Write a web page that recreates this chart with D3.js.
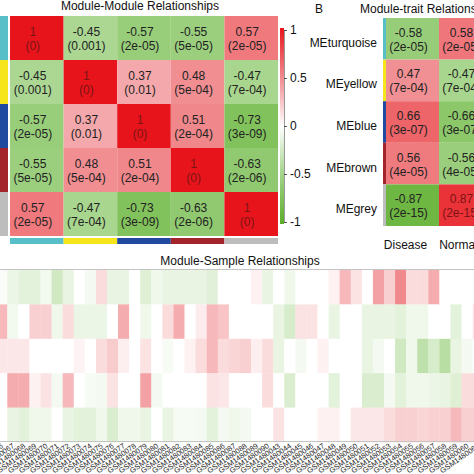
<!DOCTYPE html>
<html>
<head>
<meta charset="utf-8">
<script src="https://cdn.jsdelivr.net/npm/d3@7"></script>
<style>
  body { margin: 0; background: #fff; }
  svg { display: block; font-family: "Liberation Sans", Arial, sans-serif; }
</style>
</head>
<body>
<div id="chart"></div>
<script>
// ---- data ----
const modules = ["turquoise", "yellow", "blue", "brown", "grey"];
const moduleColors = ["#58bec7", "#f6e51b", "#1f4a9f", "#a3242b", "#bdbdbd"];

const moduleCor = [
  [1, -0.45, -0.57, -0.55, 0.57],
  [-0.45, 1, 0.37, 0.48, -0.47],
  [-0.57, 0.37, 1, 0.51, -0.73],
  [-0.55, 0.48, 0.51, 1, -0.63],
  [0.57, -0.47, -0.73, -0.63, 1]
];
const modulePval = [
  ["0", "0.001", "2e-05", "5e-05", "2e-05"],
  ["0.001", "0", "0.01", "5e-04", "7e-04"],
  ["2e-05", "0.01", "0", "2e-04", "3e-09"],
  ["5e-05", "5e-04", "2e-04", "0", "2e-06"],
  ["2e-05", "7e-04", "3e-09", "2e-06", "0"]
];

const traits = ["Disease", "Normal"];
const traitCor = [
  [-0.58, 0.58],
  [0.47, -0.47],
  [0.66, -0.66],
  [0.56, -0.56],
  [-0.87, 0.87]
];
const traitPval = ["2e-05", "7e-04", "3e-07", "4e-05", "2e-15"];

const samples = [
  "GSM1480066", "GSM1480067", "GSM1480068", "GSM1480069", "GSM1480070", "GSM1480071",
  "GSM1480072", "GSM1480073", "GSM1480074", "GSM1480075", "GSM1480076", "GSM1480077",
  "GSM1480078", "GSM1480079", "GSM1480080", "GSM1480081", "GSM1480082", "GSM1480083",
  "GSM1480084", "GSM1480085", "GSM1480086", "GSM1480087", "GSM1480088", "GSM1480089",
  "GSM1480090", "GSM1480043", "GSM1480044", "GSM1480045", "GSM1480046", "GSM1480047",
  "GSM1480048", "GSM1480049", "GSM1480050", "GSM1480051", "GSM1480052", "GSM1480053",
  "GSM1480054", "GSM1480055", "GSM1480056", "GSM1480057", "GSM1480058", "GSM1480059",
  "GSM1480060", "GSM1480061"
];

// module eigengene per sample (rows = modules)
const sampleME = [
  [-0.03, -0.1, -0.15, -0.15, -0.07, -0.25, -0.12, 0, -0.06, 0.15, -0.12, -0.12, 0, -0.18, -0.08,
   -0.12, -0.12, -0.12, -0.12, -0.16, 0, 0, 0, 0.06, -0.12, 0, -0.08, 0, 0, 0, 0.06, 0.3, 0.12, 0,
   0.4, 0.2, 0.5, 0.15, 0.15, 0.35, 0, 0, 0, 0],
  [0.3, -0.07, 0, 0.2, 0.2, -0.08, 0.15, -0.1, -0.1, -0.1, 0, 0.35, 0, -0.08, 0, 0.15, 0.35, 0,
   0.08, 0.3, 0.25, 0, 0, 0, 0, -0.12, -0.22, 0.12, 0.12, 0, -0.12, 0, 0, -0.12, -0.12, -0.12,
   -0.15, -0.08, -0.08, 0, 0, -0.15, 0, 0.1],
  [0.1, 0.1, 0.1, 0, 0, 0, 0, 0.05, 0, 0.15, 0.22, 0.07, 0, 0.12, 0, -0.05, 0, 0.06, 0.15, 0.3,
   0.15, 0.18, 0.2, 0.07, 0.15, -0.12, 0, -0.06, 0, 0.06, 0, 0, 0, -0.12, -0.06, 0, -0.25, -0.08,
   -0.35, -0.22, -0.38, -0.12, -0.06, 0],
  [0, 0.35, 0.35, 0.06, 0.12, -0.06, 0.3, 0, -0.05, -0.06, 0.12, 0, 0, 0.4, -0.06, 0, 0, 0, 0,
   0.12, 0.1, 0, 0, 0, 0.15, 0, -0.2, 0, 0, 0, -0.15, 0, 0, -0.2, -0.2, -0.06, -0.15, -0.08, -0.08,
   -0.1, -0.12, -0.18, 0.15, 0.15],
  [0, -0.12, -0.15, -0.08, -0.08, 0, -0.12, -0.15, -0.15, -0.08, -0.2, -0.08, -0.08, -0.12, 0,
   -0.12, -0.05, -0.05, -0.06, -0.15, -0.06, -0.08, -0.06, 0, 0, 0.12, 0, 0, 0, 0.06, 0.06, 0, 0.1,
   0.1, 0.1, 0.15, 0.2, 0.2, 0.18, 0.2, 0.2, 0.3, 0.2, 0.2]
];

const colorTicks = [-1, -0.5, 0, 0.5, 1];

// ---- setup ----
const width = 474;
const height = 474;

const color = d3.scaleLinear()
  .domain([-1, -0.5, 0, 0.5, 1])
  .range(["#5cad2a", "#a2d387", "#ffffff", "#f0898d", "#e8141c"])
  .clamp(true);

const svg = d3.select("#chart")
  .append("svg")
  .attr("width", width)
  .attr("height", height);

const textDx = -4; // labels sit a touch left of cell centres in the original

// ---- A: module-module heatmap ----
const mx = d3.scaleBand().domain(modules).range([10, 278]);
const my = d3.scaleBand().domain(modules).range([16, 236]);

svg.append("text")
  .attr("x", 140)
  .attr("y", 9.5)
  .attr("text-anchor", "middle")
  .attr("font-size", "12px")
  .attr("fill", "#111")
  .text("Module-Module Relationships");

const mmCells = [];
moduleCor.forEach((row, i) => row.forEach((v, j) => {
  mmCells.push({ r: modules[i], c: modules[j], v: v, p: modulePval[i][j] });
}));

svg.append("g")
  .selectAll("rect")
  .data(mmCells)
  .enter()
  .append("rect")
  .attr("x", d => mx(d.c))
  .attr("y", d => my(d.r))
  .attr("width", mx.bandwidth())
  .attr("height", my.bandwidth())
  .attr("fill", d => color(d.v));

const mmText = svg.append("g")
  .selectAll("text")
  .data(mmCells)
  .enter()
  .append("text")
  .attr("text-anchor", "middle")
  .attr("font-size", "12px")
  .attr("fill", d => d.v === 1 ? "#7a1414" : "#222");

mmText.append("tspan")
  .attr("x", d => mx(d.c) + mx.bandwidth() / 2 + textDx)
  .attr("y", d => my(d.r) + my.bandwidth() / 2 - 2)
  .text(d => d.v);
mmText.append("tspan")
  .attr("x", d => mx(d.c) + mx.bandwidth() / 2 + textDx)
  .attr("y", d => my(d.r) + my.bandwidth() / 2 + 12)
  .text(d => "(" + d.p + ")");

// module colour bars, left and bottom
svg.append("g")
  .selectAll("rect")
  .data(modules)
  .enter()
  .append("rect")
  .attr("x", 0)
  .attr("y", d => my(d))
  .attr("width", 8)
  .attr("height", my.bandwidth())
  .attr("fill", (d, i) => moduleColors[i]);

svg.append("g")
  .selectAll("rect")
  .data(modules)
  .enter()
  .append("rect")
  .attr("x", d => mx(d))
  .attr("y", 238)
  .attr("width", mx.bandwidth())
  .attr("height", 6)
  .attr("fill", (d, i) => moduleColors[i]);

// ---- colour legend ----
const cy = d3.scaleLinear().domain([-1, 1]).range([222, 30]);

const grad = svg.append("defs")
  .append("linearGradient")
  .attr("id", "cgrad")
  .attr("x1", 0).attr("y1", 1)
  .attr("x2", 0).attr("y2", 0);
grad.selectAll("stop")
  .data(d3.range(-1, 1.001, 0.25))
  .enter()
  .append("stop")
  .attr("offset", d => (d + 1) / 2)
  .attr("stop-color", d => color(d));

svg.append("rect")
  .attr("x", 280)
  .attr("y", cy(1) - 2)
  .attr("width", 4)
  .attr("height", cy(-1) - cy(1) + 4)
  .attr("fill", "url(#cgrad)");

const legendAxis = svg.append("g")
  .attr("transform", "translate(284,0)")
  .call(d3.axisRight(cy).tickValues(colorTicks).tickSize(3).tickFormat(d => String(d)));
legendAxis.select(".domain").attr("stroke", "#999");
legendAxis.selectAll(".tick line").attr("stroke", "#555");
legendAxis.selectAll(".tick text")
  .attr("font-size", "12px")
  .attr("font-family", "Liberation Sans, Arial, sans-serif")
  .attr("fill", "#111");

// ---- B: module-trait heatmap ----
svg.append("text")
  .attr("x", 315)
  .attr("y", 13)
  .attr("font-size", "12px")
  .attr("fill", "#111")
  .text("B");

svg.append("text")
  .attr("x", 360)
  .attr("y", 13)
  .attr("font-size", "12px")
  .attr("fill", "#111")
  .text("Module-trait Relationships");

const tx = d3.scaleBand().domain(traits).range([386, 492]);
const ty = d3.scaleBand().domain(modules).range([18, 226]);

const mtCells = [];
traitCor.forEach((row, i) => row.forEach((v, j) => {
  mtCells.push({ r: modules[i], c: traits[j], v: v, p: traitPval[i] });
}));

svg.append("g")
  .selectAll("rect")
  .data(mtCells)
  .enter()
  .append("rect")
  .attr("x", d => tx(d.c))
  .attr("y", d => ty(d.r))
  .attr("width", tx.bandwidth())
  .attr("height", ty.bandwidth())
  .attr("fill", d => color(d.v));

const mtText = svg.append("g")
  .selectAll("text")
  .data(mtCells)
  .enter()
  .append("text")
  .attr("text-anchor", "middle")
  .attr("font-size", "12px")
  .attr("fill", d => d.v > 0.8 ? "#7a1414" : "#222");

mtText.append("tspan")
  .attr("x", d => tx(d.c) + tx.bandwidth() / 2 + textDx)
  .attr("y", d => ty(d.r) + ty.bandwidth() / 2 - 2)
  .text(d => d.v);
mtText.append("tspan")
  .attr("x", d => tx(d.c) + tx.bandwidth() / 2 + textDx)
  .attr("y", d => ty(d.r) + ty.bandwidth() / 2 + 12)
  .text(d => "(" + d.p + ")");

svg.append("g")
  .selectAll("rect")
  .data(modules)
  .enter()
  .append("rect")
  .attr("x", 383)
  .attr("y", d => ty(d))
  .attr("width", 3)
  .attr("height", ty.bandwidth())
  .attr("fill", (d, i) => moduleColors[i]);

svg.append("g")
  .selectAll("text")
  .data(modules)
  .enter()
  .append("text")
  .attr("x", 377)
  .attr("y", d => ty(d) + ty.bandwidth() / 2 + 8)
  .attr("text-anchor", "end")
  .attr("font-size", "12px")
  .attr("fill", "#111")
  .text(d => "ME" + d);

svg.append("g")
  .selectAll("text")
  .data(traits)
  .enter()
  .append("text")
  .attr("x", d => tx(d) + tx.bandwidth() / 2 + textDx - 3)
  .attr("y", 249)
  .attr("text-anchor", "middle")
  .attr("font-size", "12px")
  .attr("fill", "#111")
  .text(d => d);

// ---- C: module-sample heatmap ----
svg.append("text")
  .attr("x", 240)
  .attr("y", 265)
  .attr("text-anchor", "middle")
  .attr("font-size", "12px")
  .attr("fill", "#111")
  .text("Module-Sample Relationships");

const sx = d3.scaleBand().domain(samples).range([-3.8, -3.8 + samples.length * 11.08]);
const sy = d3.scaleBand().domain(modules).range([270, 442]);

const msCells = [];
sampleME.forEach((row, i) => row.forEach((v, j) => {
  msCells.push({ r: modules[i], c: samples[j], v: v });
}));

svg.append("g")
  .selectAll("rect")
  .data(msCells)
  .enter()
  .append("rect")
  .attr("x", d => sx(d.c))
  .attr("y", d => sy(d.r))
  .attr("width", sx.bandwidth() + 0.3)
  .attr("height", sy.bandwidth() + 0.3)
  .attr("fill", d => color(d.v));

svg.append("g")
  .selectAll("line")
  .data([270, 442])
  .enter()
  .append("line")
  .attr("x1", 0)
  .attr("x2", width)
  .attr("y1", d => d - 0.5)
  .attr("y2", d => d - 0.5)
  .attr("stroke", "#c4c4c4");

svg.append("g")
  .selectAll("text")
  .data(samples)
  .enter()
  .append("text")
  .attr("transform", d => "translate(" + (sx(d) + sx.bandwidth() / 2 + 2) + ",447) rotate(-35)")
  .attr("text-anchor", "end")
  .attr("font-size", "7.5px")
  .attr("fill", "#222")
  .text(d => d);
</script>
</body>
</html>
